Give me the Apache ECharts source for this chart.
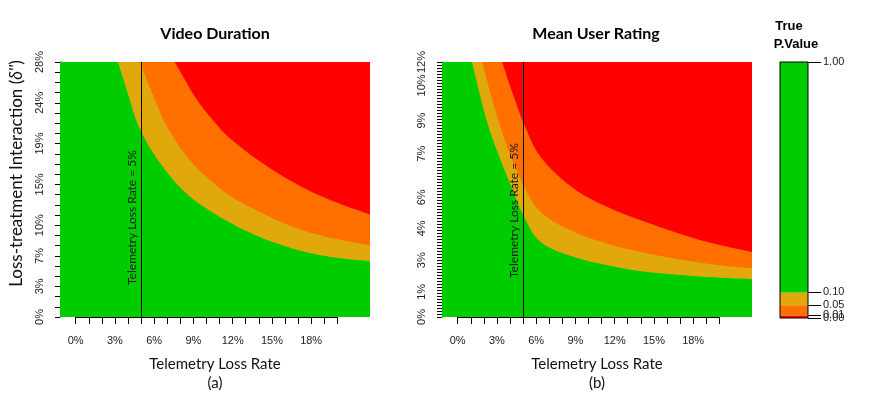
<!DOCTYPE html>
<html>
<head>
<meta charset="utf-8">
<script src="https://cdn.jsdelivr.net/npm/echarts@6/dist/echarts.min.js"></script>
<style>
  html, body { margin: 0; padding: 0; background: #fff; }
  #main { width: 870px; height: 394px; }
</style>
</head>
<body>
<div id="main"></div>
<script>
// telemetry loss rate (%) shown on both x axes
var X_MIN = -1.2, X_MAX = 22.5;
var xTicks = [0, 1, 2, 3, 4, 5, 6, 7, 8, 9, 10, 11, 12, 13, 14, 15, 16, 17, 18, 19, 20];
var xLabels = [0, 3, 6, 9, 12, 15, 18];
var markRate = 5;

// (a) Video Duration: y = loss-treatment interaction (%)
var durYMax = 28;
var durYStep = 1.12;
var durYLabelAt = [0, 3.36, 6.72, 10.08, 14.56, 19.04, 23.52, 28];
var durYLabels = ['0%', '3%', '7%', '10%', '15%', '19%', '24%', '28%'];
// contour lines [loss rate, interaction] for p = 0.10, 0.05, 0.01
var durP10 = [[3.24, 28], [4.0, 24.5], [4.84, 20.86], [6.3, 17.2], [8.47, 13.55], [11.02, 10.98], [14.08, 8.78], [16.63, 7.5], [19.18, 6.66], [22.5, 6.11]];
var durP05 = [[4.9, 28], [5.88, 24.5], [7.0, 20.86], [8.72, 17.2], [10.3, 15.0], [11.95, 13.17], [14.08, 11.5], [16.63, 9.88], [19.18, 8.78], [22.5, 7.87]];
var durP01 = [[7.57, 28], [8.3, 26.2], [9.2, 24.0], [10.5, 21.6], [11.65, 19.8], [14.08, 17.1], [16.63, 14.8], [19.18, 13.0], [22.5, 11.24]];

// (b) Mean User Rating
var ratYMax = 12;
var ratYStep = 12 / 85;
var ratYLabelAt = [0, 1.18, 2.67, 4.17, 5.63, 7.69, 9.24, 10.9, 12];
var ratYLabels = ['0%', '1%', '3%', '4%', '6%', '7%', '9%', '10%', '12%'];
var ratP10 = [[1.1, 12], [2.25, 9.18], [3.14, 7.61], [4.17, 6.04], [5.01, 4.79], [6.34, 3.53], [8.89, 2.82], [11.45, 2.43], [14.0, 2.15], [16.55, 2.0], [19.1, 1.88], [22.5, 1.77]];
var ratP05 = [[1.87, 12], [3.14, 9.18], [4.04, 7.61], [5.01, 6.2], [6.34, 4.94], [8.89, 4.0], [11.45, 3.45], [14.0, 3.06], [16.55, 2.75], [19.1, 2.51], [22.5, 2.28]];
var ratP01 = [[3.4, 12], [4.17, 10.59], [5.01, 9.18], [6.34, 7.53], [8.89, 6.04], [11.45, 5.18], [14.0, 4.55], [16.55, 4.0], [19.1, 3.53], [22.5, 3.06]];

// colour key
var pBreaks = [0, 0.01, 0.05, 0.10, 1.00];
var bandColors = ['#ff0000', '#ff7000', '#e0a80a', '#00cd00'];

var tickFont = { fontFamily: 'Liberation Sans', fontSize: 11, color: '#222' };

function tickList(step, max) {
  var out = [];
  for (var i = 0; i * step <= max + 1e-9; i++) out.push(+(i * step).toFixed(5));
  return out;
}

function nearestLabel(v, at, text) {
  var best = 0;
  for (var i = 1; i < at.length; i++) if (Math.abs(at[i] - v) < Math.abs(at[best] - v)) best = i;
  return text[best];
}

// filled band: from a contour line up to the top of the plot (origin 'end')
function areaSeries(gi, data, color, origin, extra) {
  var s = {
    type: 'line', xAxisIndex: gi, yAxisIndex: gi,
    data: data, showSymbol: false, smooth: 0.35,
    lineStyle: { width: 0 }, areaStyle: { color: color, opacity: 1, origin: origin },
    itemStyle: { color: color }, silent: true, animation: false
  };
  return Object.assign(s, extra || {});
}

var xAxes = [], yAxes = [], series = [];

function panel(gi, yMax, yStep, labelAt, labelText, p10, p05, p01, xName, yName, annDist) {
  xAxes.push({
    type: 'value', gridIndex: gi, min: X_MIN, max: X_MAX,
    name: xName, nameLocation: 'middle', nameGap: 38,
    nameTextStyle: { fontFamily: 'Lato', fontSize: 15, lineHeight: 19, color: '#111' },
    axisLine: { show: false, onZero: false },
    axisTick: { show: true, length: 7, customValues: xTicks, lineStyle: { color: '#000', width: 1 } },
    axisLabel: Object.assign({ customValues: xLabels, margin: 18, formatter: function (v) { return v + '%'; } }, tickFont),
    splitLine: { show: false }
  });
  var ya = {
    type: 'value', gridIndex: gi, min: 0, max: yMax,
    axisLine: { show: true, onZero: false, lineStyle: { color: '#000', width: 1 } },
    axisTick: { show: true, length: 5, customValues: tickList(yStep, yMax), lineStyle: { color: '#000', width: 1 } },
    axisLabel: Object.assign({
      customValues: labelAt, rotate: 90, margin: 15, hideOverlap: false,
      formatter: function (v) { return nearestLabel(v, labelAt, labelText); }
    }, tickFont),
    splitLine: { show: false }
  };
  if (yName) {
    ya.name = yName;
    ya.nameLocation = 'middle';
    ya.nameGap = 35;
    ya.nameRotate = 90;
    ya.nameTextStyle = {
      fontFamily: 'Lato', fontSize: 17, color: '#111', padding: [0, 0, 0, 32],
      rich: { i: { fontFamily: 'Lato', fontSize: 17, fontStyle: 'italic', color: '#111' } }
    };
  }
  yAxes.push(ya);

  series.push(areaSeries(gi, [[X_MIN, yMax], [X_MAX, yMax]], bandColors[3], 'start'));
  series.push(areaSeries(gi, p10, bandColors[2], 'end'));
  series.push(areaSeries(gi, p05, bandColors[1], 'end'));
  series.push(areaSeries(gi, p01, bandColors[0], 'end', {
    clip: false, // keep the bottom base line from being clipped at the plot edge
    markLine: {
      silent: true, symbol: 'none', animation: false,
      lineStyle: { color: '#000', width: 1, type: 'solid' },
      data: [
        {
          xAxis: markRate,
          label: {
            show: true, formatter: 'Telemetry Loss Rate = ' + markRate + '%',
            position: 'insideStartTop', distance: [annDist, 3],
            fontFamily: 'Lato', fontSize: 12, color: '#1a1a1a'
          }
        },
        [{ coord: [xTicks[0], 0], label: { show: false } }, { coord: [xTicks[xTicks.length - 1], 0] }]
      ]
    }
  }));
}

panel(0, durYMax, durYStep, durYLabelAt, durYLabels, durP10, durP05, durP01,
  'Telemetry Loss Rate\n(a)', 'Loss-treatment Interaction ({i|δ\'\'})', 32);
panel(1, ratYMax, ratYStep, ratYLabelAt, ratYLabels, ratP10, ratP05, ratP01,
  'Telemetry Loss Rate\n(b)', null, 39);

// colour key as a stacked bar; one axis per break so close labels are all kept
xAxes.push({ type: 'category', gridIndex: 2, data: ['p'], show: false });
pBreaks.forEach(function (b) {
  yAxes.push({
    type: 'value', gridIndex: 2, min: 0, max: 1, position: 'right',
    axisLine: { show: false },
    axisTick: { show: true, length: 13, customValues: [b], lineStyle: { color: '#000', width: 1 } },
    axisLabel: Object.assign({ customValues: [b], margin: 15, hideOverlap: false,
      showMinLabel: true, showMaxLabel: true,
      formatter: function (v) { return v.toFixed(2); } }, tickFont),
    splitLine: { show: false }
  });
});
var keyAxisIndex = yAxes.length - pBreaks.length;
for (var k = 0; k < bandColors.length; k++) {
  series.push({
    type: 'bar', xAxisIndex: 2, yAxisIndex: keyAxisIndex, stack: 'key',
    data: [+(pBreaks[k + 1] - pBreaks[k]).toFixed(4)],
    barWidth: '100%', itemStyle: { color: bandColors[k] }, silent: true, animation: false
  });
}

var chart = echarts.init(document.getElementById('main'), null, { renderer: 'canvas' });
chart.setOption({
  backgroundColor: '#fff',
  animation: false,
  title: [
    { text: 'Video Duration', left: 215, top: 26, padding: 0, textAlign: 'center',
      textStyle: { fontFamily: 'Lato', fontWeight: 'bold', fontSize: 16, color: '#000' } },
    { text: 'Mean User Rating', left: 596, top: 26, padding: 0, textAlign: 'center',
      textStyle: { fontFamily: 'Lato', fontWeight: 'bold', fontSize: 16, color: '#000' } },
    { text: 'True', left: 789, top: 20, padding: 0, textAlign: 'center',
      textStyle: { fontFamily: 'Liberation Sans', fontWeight: 'bold', fontSize: 13, color: '#000' } },
    { text: 'P.Value', left: 796, top: 38, padding: 0, textAlign: 'center',
      textStyle: { fontFamily: 'Liberation Sans', fontWeight: 'bold', fontSize: 13, color: '#000' } }
  ],
  grid: [
    { left: 60, top: 62, width: 310, height: 255, outerBoundsMode: 'none' },
    { left: 442, top: 62, width: 310, height: 255, outerBoundsMode: 'none' },
    { left: 780, top: 62, width: 28, height: 256, outerBoundsMode: 'none', show: true, z: 10,
      backgroundColor: 'transparent', borderColor: '#000', borderWidth: 1 }
  ],
  xAxis: xAxes,
  yAxis: yAxes,
  series: series
});
</script>
</body>
</html>
